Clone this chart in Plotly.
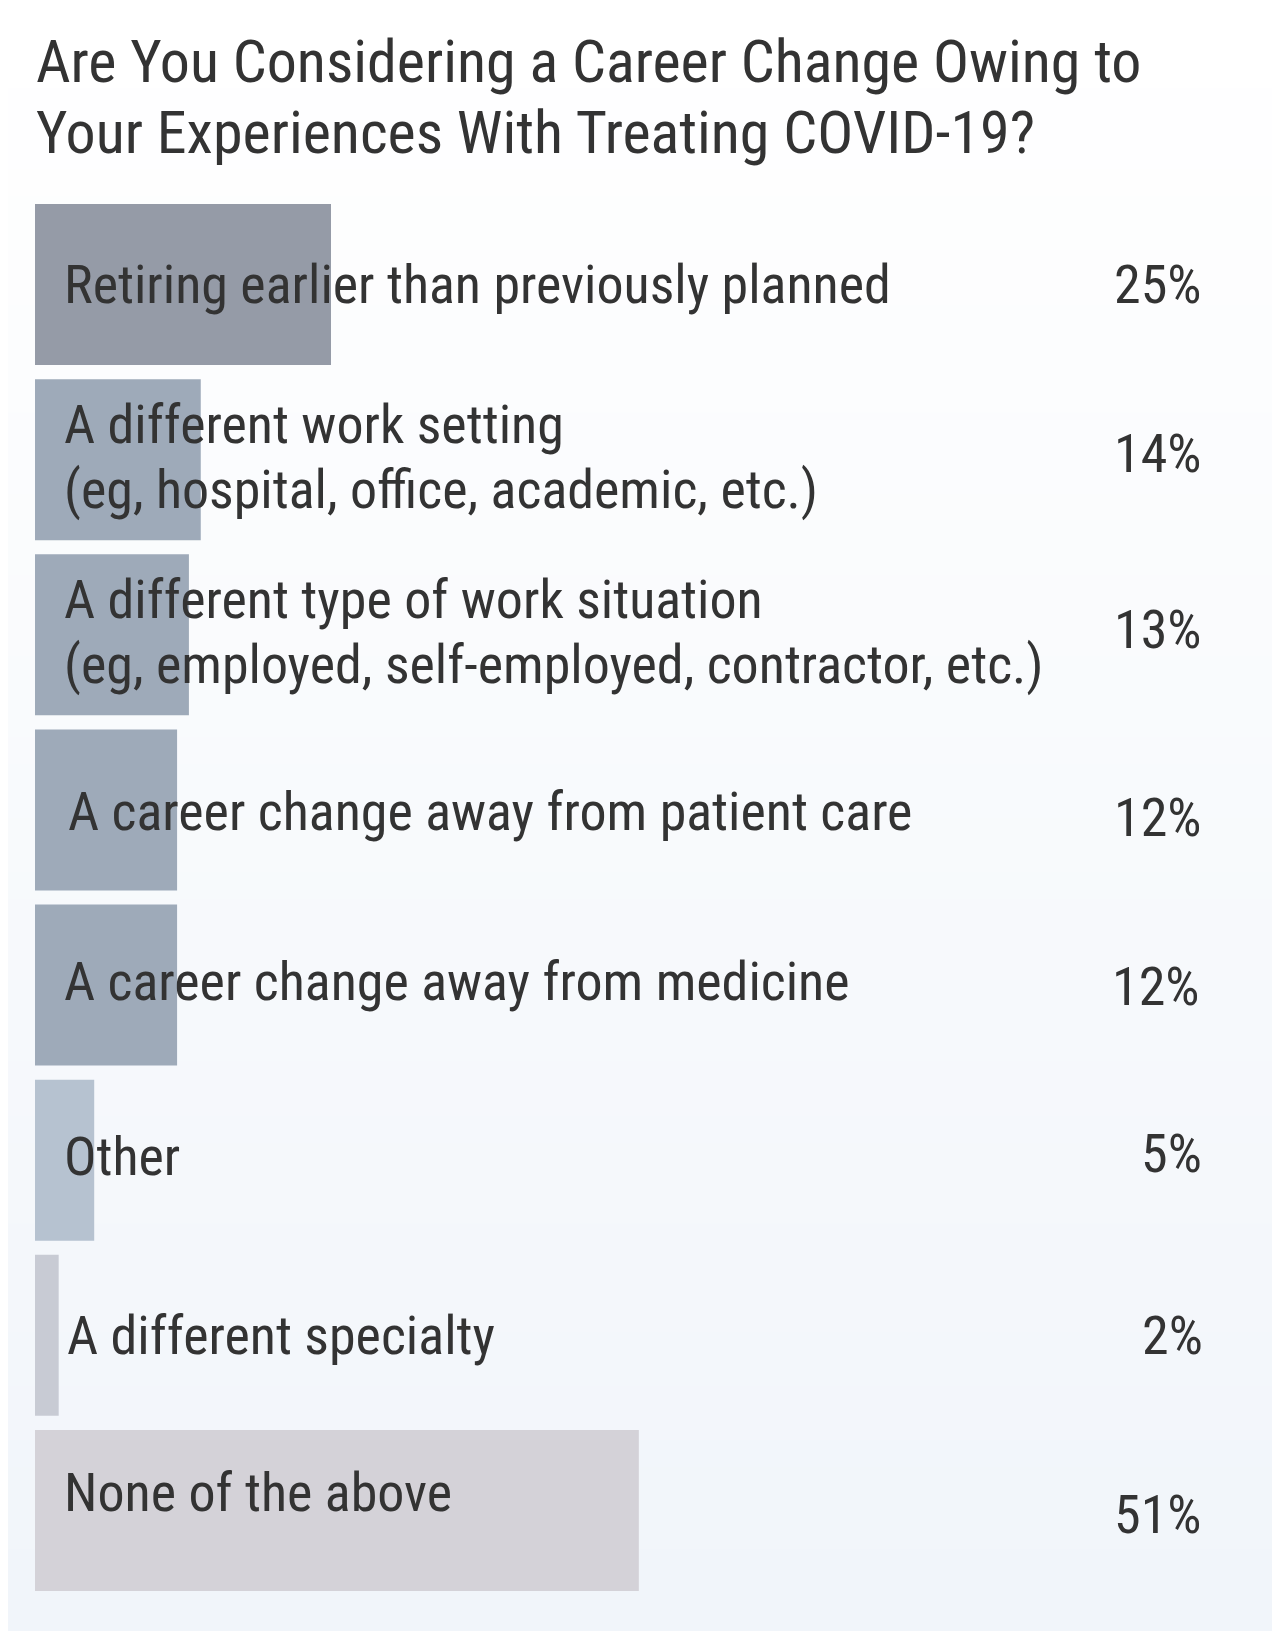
import plotly.graph_objects as go

# ---- data ----
title_lines = ["Are You Considering a Career Change Owing to",
               "Your Experiences With Treating COVID-19?"]
categories = [
    "Retiring earlier than previously planned",
    "A different work setting<br>(eg, hospital, office, academic, etc.)",
    "A different type of work situation<br>(eg, employed, self-employed, contractor, etc.)",
    "A career change away from patient care",
    "A career change away from medicine",
    "Other",
    "A different specialty",
    "None of the above",
]
values = [25, 14, 13, 12, 12, 5, 2, 51]
pct_labels = ["25%", "14%", "13%", "12%", "12%", "5%", "2%", "51%"]

# ---- style ----
bar_colors = ["#959ba7", "#9eaab9", "#9eaab9", "#9eaab9", "#9eaab9",
              "#b6c2d0", "#c8cbd4", "#d4d2d8"]
label_yshift = [0, 0, 0, -2, 4, 4, 0, 18]
label_xshift = [27, 27, 27, 31, 27, 27, 30, 27]
pct_xshift = [-15, -15, -15, -15, -17, -15, -14, -15]
pct_yshift = [0, 6, 5, -8, -1, 7, 0, -4]
two_line_offsets = [35.5, -30]
FONT = "Roboto Condensed, Liberation Sans Narrow, Arial Narrow, DejaVu Sans Condensed, Roboto, sans-serif"
TEXT_COLOR = "#333333"
LABEL_SIZE = 54
TITLE_SIZE = 60

W, H = 1272, 1623
ML, MR, MT, MB = 27, 61, 189, 33

fig = go.Figure()
fig.add_trace(go.Bar(
    x=values,
    y=categories,
    orientation="h",
    marker=dict(color=bar_colors, line=dict(width=0)),
    hoverinfo="skip",
))

annotations = []
for i, cat in enumerate(categories):
    lines = cat.split("<br>")
    offs = [0] if len(lines) == 1 else two_line_offsets
    for line, off in zip(lines, offs):
        annotations.append(dict(
            x=0, y=cat, xref="x", yref="y", text=line, showarrow=False,
            xanchor="left", yanchor="middle", align="left",
            xshift=label_xshift[i], yshift=label_yshift[i] + off,
            font=dict(family=FONT, size=LABEL_SIZE, color=TEXT_COLOR),
        ))
    annotations.append(dict(
        x=1, y=cat, xref="paper", yref="y", text=pct_labels[i], showarrow=False,
        xanchor="right", yanchor="middle", align="right",
        xshift=pct_xshift[i], yshift=pct_yshift[i],
        font=dict(family=FONT, size=LABEL_SIZE, color=TEXT_COLOR),
    ))

# title, two lines placed individually
for line, ys in zip(title_lines, [135.5, 64.5]):
    annotations.append(dict(
        x=0, y=1, xref="paper", yref="paper", text=line, showarrow=False,
        xanchor="left", yanchor="middle", align="left", xshift=-1, yshift=ys,
        font=dict(family=FONT, size=TITLE_SIZE, color=TEXT_COLOR),
    ))

# background gradient (white at top to pale blue at bottom)
shapes = []
n = 60
top_c = (255, 255, 255)
bot_c = (241, 245, 250)
plot_h = H - MT - MB
y_top = 1 + MT / plot_h
y_bot = -MB / plot_h
for k in range(n):
    t = k / (n - 1)
    c = tuple(round(top_c[j] + (bot_c[j] - top_c[j]) * t) for j in range(3))
    y1 = y_top - (y_top - y_bot) * k / n
    y0 = y_top - (y_top - y_bot) * (k + 1) / n
    shapes.append(dict(
        type="rect", xref="paper", yref="paper", x0=-0.1, x1=1.2,
        y0=y0 - 0.001, y1=y1 + 0.001, layer="below",
        fillcolor="rgb(%d,%d,%d)" % c, line=dict(width=0),
    ))

fig.update_layout(
    width=W, height=H,
    margin=dict(l=ML, r=MR, t=MT, b=MB, pad=0),
    paper_bgcolor="#f6f8fb",
    plot_bgcolor="rgba(0,0,0,0)",
    bargap=0.08,
    showlegend=False,
    xaxis=dict(range=[0, 100], visible=False, fixedrange=True),
    yaxis=dict(autorange="reversed", visible=False, fixedrange=True),
    annotations=annotations,
    shapes=shapes,
)

fig.write_html("out.html")
